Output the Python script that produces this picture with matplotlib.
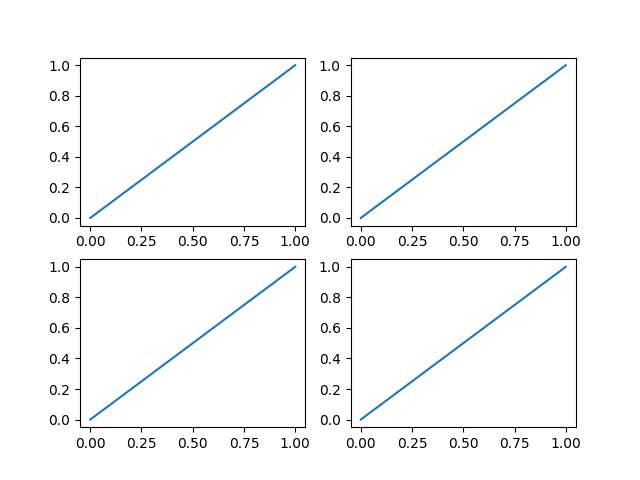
import matplotlib
matplotlib.use("Agg")
import matplotlib.pyplot as plt

x_vals = [0, 1]
y_vals = [0, 1]

fig, axes = plt.subplots(2, 2, figsize=(6.4, 4.8), dpi=100)

for ax in axes.flat:
    ax.plot(x_vals, y_vals)

fig.savefig("out.png", dpi=100)
plt.close(fig)
